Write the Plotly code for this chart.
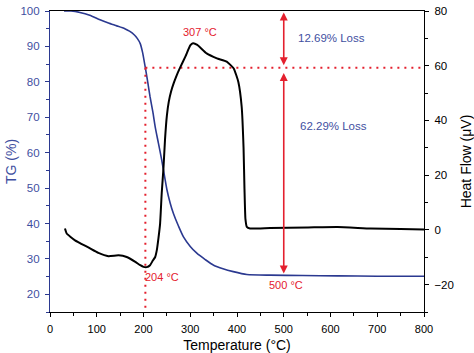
import plotly.graph_objects as go

# TG curve (left axis, %)
tg_temp = [30, 45, 64, 85, 107, 125, 143, 160, 170, 180, 187, 193, 198, 203.5, 209, 214, 220, 225,
           232, 239, 250, 257, 264, 275, 285.5, 300, 314, 332, 350, 370, 392, 421, 471, 540, 615, 700, 800]
tg_vals = [100, 100, 99.6, 98.8, 97.5, 96.6, 95.8, 95.0, 94.3, 93.3, 92.2, 90.8, 88.3, 84.3, 80.0,
           75.8, 71.5, 67.3, 62.6, 57.9, 49.6, 45.8, 42.8, 39.2, 36.2, 33.5, 31.6, 29.8, 28.2, 27.2,
           26.4, 25.6, 25.4, 25.3, 25.2, 25.1, 25.1]

# Heat flow curve (right axis, µV)
hf_temp = [32, 35.7, 53.5, 82, 103.5, 125, 146.5, 164, 182.5, 193, 200, 207, 214, 220, 225, 228.5,
           232, 235.5, 239, 242.7, 246, 250, 254, 259, 265, 271, 278, 290, 300, 306, 315, 335, 357,
           378, 393, 403, 410, 414, 416, 418, 421, 428, 471, 550, 615, 686, 750, 800]
hf_vals = [0.5, -1.3, -3.8, -6.4, -8.4, -9.6, -9.3, -9.9, -11.7, -12.9, -13.5, -13.6, -12.9, -11.2,
           -9.9, -7.4, -3.0, 2.3, 13.5, 22.5, 33.0, 41.8, 46.8, 50.6, 53.8, 56.5, 59.2, 63.5, 67.4,
           68.2, 67.6, 64.5, 62.7, 61.5, 59.0, 54.0, 45.0, 30.0, 15.0, 4.0, 1.1, 0.5, 0.7, 0.9, 1.1,
           0.5, 0.3, 0.15]

x_ticks = [0, 100, 200, 300, 400, 500, 600, 700, 800]
tg_ticks = [20, 30, 40, 50, 60, 70, 80, 90, 100]
hf_ticks = [-20, 0, 20, 40, 60, 80]

onset_T = 204
end_T = 500
split_tg = 84

BLUE = "#2b3990"
TEXTBLUE = "#3f4f9f"
RED = "#e4202e"
FONT = "Arial, Liberation Sans, sans-serif"

fig = go.Figure()
fig.add_trace(go.Scatter(x=tg_temp, y=tg_vals, mode="lines",
                         line=dict(color=BLUE, width=1.6, shape="spline", smoothing=0.6),
                         showlegend=False, yaxis="y"))
fig.add_trace(go.Scatter(x=hf_temp, y=hf_vals, mode="lines",
                         line=dict(color="black", width=2, shape="spline", smoothing=0.4),
                         showlegend=False, yaxis="y2"))

# dotted guides
fig.add_trace(go.Scatter(x=[onset_T, 800], y=[split_tg, split_tg], mode="lines",
                         line=dict(color=RED, width=2, dash="2px,5px"), showlegend=False, yaxis="y"))
fig.add_trace(go.Scatter(x=[onset_T, onset_T], y=[split_tg, 15], mode="lines",
                         line=dict(color=RED, width=2, dash="2px,5px"), showlegend=False, yaxis="y"))

annotations = [
    dict(x=end_T, y=84.7, ax=end_T, ay=100, xref="x", yref="y", axref="x", ayref="y", text="",
         showarrow=True, arrowhead=2, arrowside="end+start", arrowsize=1, arrowwidth=1.6, arrowcolor=RED),
    dict(x=end_T, y=25.9, ax=end_T, ay=82.9, xref="x", yref="y", axref="x", ayref="y", text="",
         showarrow=True, arrowhead=2, arrowside="end+start", arrowsize=1, arrowwidth=1.6, arrowcolor=RED),
    dict(x=602, y=92.4, xref="x", yref="y", text="12.69% Loss", showarrow=False,
         font=dict(family=FONT, size=11.5, color=TEXTBLUE)),
    dict(x=607, y=67.5, xref="x", yref="y", text="62.29% Loss", showarrow=False,
         font=dict(family=FONT, size=11.5, color=TEXTBLUE)),
    dict(x=321, y=94.1, xref="x", yref="y", text="307 °C", showarrow=False,
         font=dict(family=FONT, size=11, color=RED)),
    dict(x=240, y=25.0, xref="x", yref="y", text="204 °C", showarrow=False,
         font=dict(family=FONT, size=11, color=RED)),
    dict(x=505, y=22.6, xref="x", yref="y", text="500 °C", showarrow=False,
         font=dict(family=FONT, size=11, color=RED)),
]

fig.update_layout(
    width=474, height=353,
    margin=dict(l=50, r=50, t=11, b=41, autoexpand=False),
    paper_bgcolor="white", plot_bgcolor="white",
    font=dict(family=FONT, size=11, color="black"),
    annotations=annotations,
    xaxis=dict(range=[0, 800], tickvals=x_ticks, showgrid=False, zeroline=False,
               showline=True, linecolor="black", linewidth=1.2, mirror=True,
               ticks="outside", ticklen=4, tickcolor="black", ticklabelstandoff=3,
               minor=dict(ticks="outside", ticklen=3, dtick=50, tick0=0, tickcolor="black"),
               tickfont=dict(size=11, color="black"), automargin=False,
               title=dict(text="Temperature (°C)", font=dict(size=14, color="black"), standoff=8)),
    yaxis=dict(range=[15, 100], tickvals=tg_ticks, showgrid=False, zeroline=False,
               showline=True, linecolor=BLUE, linewidth=1.2,
               ticks="outside", ticklen=4, tickcolor=BLUE, ticklabelstandoff=3,
               minor=dict(ticks="outside", ticklen=3, dtick=5, tick0=0, tickcolor=BLUE),
               tickfont=dict(size=11.5, color=TEXTBLUE), automargin=False,
               title=dict(text="TG (%)", font=dict(size=14, color=TEXTBLUE), standoff=0)),
    yaxis2=dict(range=[-30, 80], tickvals=hf_ticks, overlaying="y", side="right", showgrid=False, zeroline=False,
                showline=True, linecolor="black", linewidth=1.2,
                ticks="outside", ticklen=4, tickcolor="black", ticklabelstandoff=3,
                minor=dict(ticks="outside", ticklen=3, dtick=10, tick0=0, tickcolor="black"),
                tickfont=dict(size=11.5, color="black"), automargin=False,
                title=dict(text="Heat Flow (μV)", font=dict(size=14, color="black"), standoff=9)),
)

fig.write_html("out.html")
